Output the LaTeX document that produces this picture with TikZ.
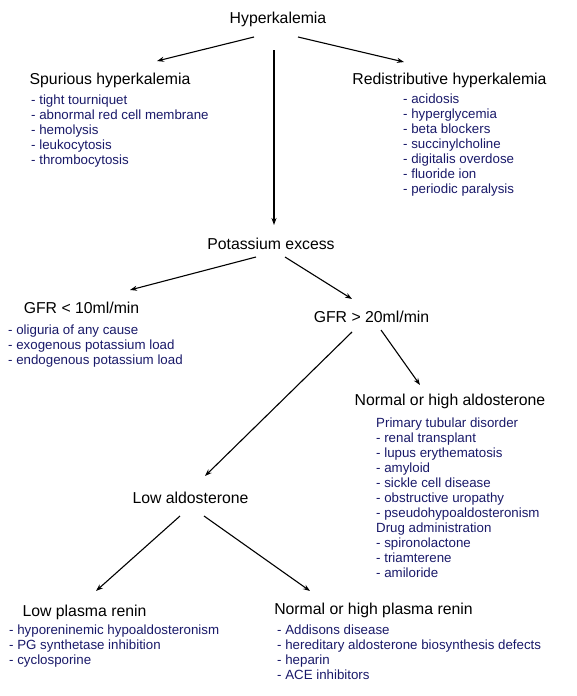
\documentclass[tikz,border=0pt]{standalone}
\usepackage{fontspec}
\setmainfont{Liberation Sans}
\usetikzlibrary{arrows.meta}
\definecolor{listblue}{RGB}{25,25,105}

\begin{document}
\begin{tikzpicture}[
  x=1pt, y=-1pt,
  head/.style={inner sep=0pt, anchor=base, font=\fontsize{15.8}{18}\selectfont},
  list/.style={inner sep=0pt, anchor=north west, align=left, text=listblue, font=\fontsize{13.3}{15}\selectfont},
  edge/.style={-{Stealth[length=7pt,width=5pt]}, line width=1.1pt}
]
  \useasboundingbox (0,0) rectangle (576,696);
  % headings
  \node[head] (hyper) at (278,23.5) {Hyperkalemia};
  \node[head] (spur) at (110,84.5) {Spurious hyperkalemia};
  \node[head] (redis) at (449.5,84.5) {Redistributive hyperkalemia};
  \node[head] (potas) at (271,249.5) {Potassium excess};
  \node[head] (gfrlow) at (81.5,313.5) {GFR < 10ml/min};
  \node[head] (gfrhigh) at (371.5,322.5) {GFR > 20ml/min};
  \node[head] (normald) at (450,405.5) {Normal or high aldosterone};
  \node[head] (lowald) at (190.5,503.5) {Low aldosterone};
  \node[head] (lowren) at (84.5,616.5) {Low plasma renin};
  \node[head] (normren) at (373.5,614.5) {Normal or high plasma renin};
  % lists
  \node[list] (spurlist) at (31,94.3) {- tight tourniquet\\- abnormal red cell membrane\\- hemolysis\\- leukocytosis\\- thrombocytosis};
  \node[list] (redislist) at (403,93.3) {- acidosis\\- hyperglycemia\\- beta blockers\\- succinylcholine\\- digitalis overdose\\- fluoride ion\\- periodic paralysis};
  \node[list] (gfrlowlist) at (8,324.3) {- oliguria of any cause\\- exogenous potassium load\\- endogenous potassium load};
  \node[list] (aldlist) at (376,417.3) {Primary tubular disorder\\- renal transplant\\- lupus erythematosis\\- amyloid\\- sickle cell disease\\- obstructive uropathy\\- pseudohypoaldosteronism\\Drug administration\\- spironolactone\\- triamterene\\- amiloride};
  \node[list] (lowrenlist) at (9,624.3) {- hyporeninemic hypoaldosteronism\\- PG synthetase inhibition\\- cyclosporine};
  \node[list] (normrenlist) at (277,624.3) {- Addisons disease\\- hereditary aldosterone biosynthesis defects\\- heparin\\- ACE inhibitors};
  % arrows
  \draw[edge] ([shift={(-24,13.5)}]hyper.base) -- ([shift={(47,-23.5)}]spur.base);
  \draw[edge] ([shift={(20,13.5)}]hyper.base) -- ([shift={(-45.5,-22.5)}]redis.base);
  \draw[edge] ([shift={(-4,26.5)}]hyper.base) -- ([shift={(3,-24.5)}]potas.base);
  \draw[edge] ([shift={(-15,7.5)}]potas.base) -- ([shift={(48.5,-23.5)}]gfrlow.base);
  \draw[edge] ([shift={(14,7.5)}]potas.base) -- ([shift={(-19.5,-23.5)}]gfrhigh.base);
  \draw[edge] ([shift={(-19.5,9.5)}]gfrhigh.base) -- ([shift={(14.5,-27.5)}]lowald.base);
  \draw[edge] ([shift={(9.5,7.5)}]gfrhigh.base) -- ([shift={(-30,-20.5)}]normald.base);
  \draw[edge] ([shift={(-10.5,12.5)}]lowald.base) -- ([shift={(11.5,-25.5)}]lowren.base);
  \draw[edge] ([shift={(13.5,12.5)}]lowald.base) -- ([shift={(-63.5,-23.5)}]normren.base);
\end{tikzpicture}
\end{document}
